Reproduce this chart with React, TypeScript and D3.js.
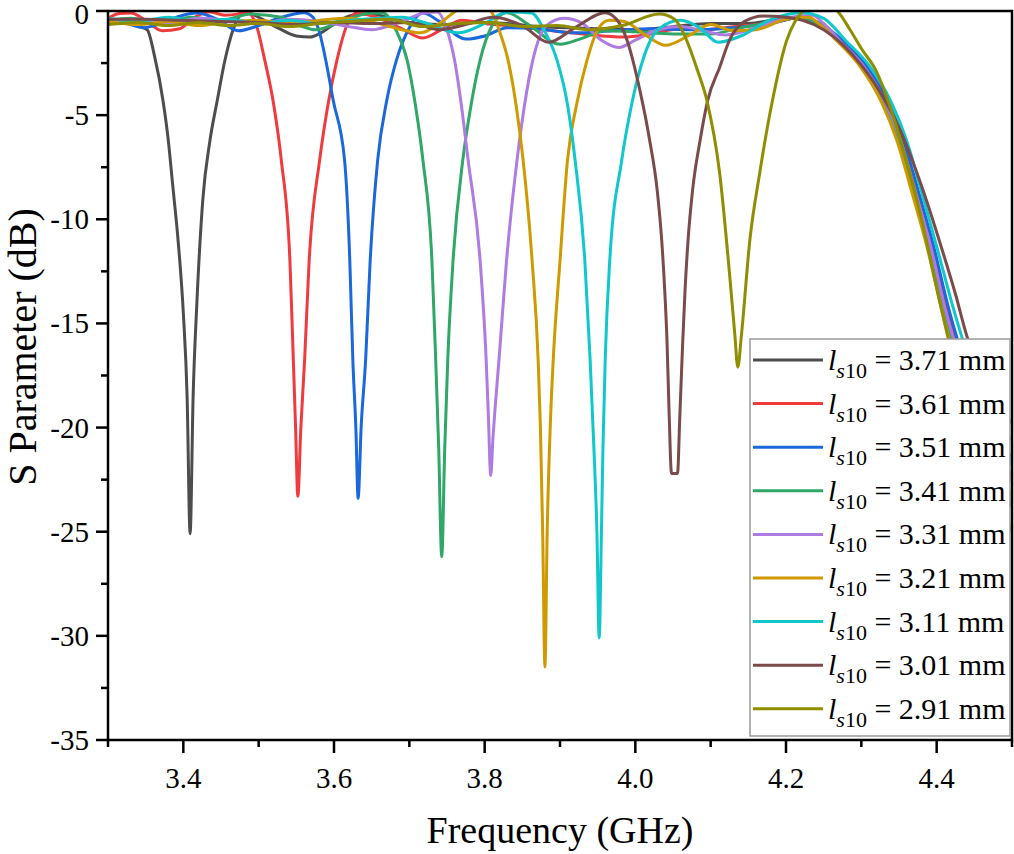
import React from "react";
import * as d3 from "d3";

// S11 curves for each ls10 value, [frequency GHz, dB]
const ls371 = [
  [3.300, -0.45], [3.315, -0.5], [3.330, -0.6], [3.342, -0.75], [3.352, -0.9], [3.362, -2.2], [3.373, -4.3],
  [3.380, -6.2], [3.386, -8.4], [3.393, -11.0], [3.400, -14.5], [3.405, -18.5], [3.409, -25.1], [3.413, -18.5],
  [3.418, -14.0], [3.426, -9.0], [3.435, -6.3], [3.445, -4.3], [3.455, -2.4], [3.466, -0.9], [3.482, -0.05],
  [3.500, -0.3], [3.525, -0.8], [3.550, -1.2], [3.568, -1.25], [3.585, -1.0], [3.605, -0.5], [3.625, -0.2],
  [3.650, -0.15], [3.680, -0.4], [3.710, -0.6], [3.750, -0.65], [3.790, -0.55], [3.830, -0.6], [3.870, -0.75],
  [3.910, -0.8], [3.950, -0.85], [4.000, -0.9], [4.050, -0.75], [4.100, -0.6], [4.150, -0.6], [4.200, -0.35],
  [4.225, -0.4], [4.250, -0.8], [4.275, -1.55], [4.305, -2.7], [4.335, -4.5], [4.355, -6.3], [4.375, -8.8],
  [4.395, -11.4], [4.415, -14.4], [4.435, -16.9], [4.465, -19.6], [4.500, -22.4],
];
const ls361 = [
  [3.300, -0.35], [3.315, -0.12], [3.330, -0.1], [3.350, -0.45], [3.372, -0.95], [3.395, -0.85], [3.415, -0.3],
  [3.435, -0.05], [3.455, -0.2], [3.472, -0.15], [3.484, -0.05], [3.497, -0.7], [3.508, -2.35], [3.520, -4.5],
  [3.530, -7.15], [3.5415, -12.0], [3.546, -16.75], [3.549, -20.0], [3.552, -23.3], [3.556, -20.0],
  [3.561, -16.75], [3.567, -12.0], [3.581, -7.15], [3.592, -4.5], [3.604, -2.35], [3.618, -0.6], [3.630, -0.1],
  [3.660, -0.35], [3.690, -0.85], [3.718, -1.3], [3.745, -0.85], [3.770, -0.45], [3.800, -0.6], [3.845, -0.75],
  [3.890, -0.95], [3.930, -1.1], [3.985, -1.25], [4.020, -1.1], [4.060, -0.85], [4.090, -0.9], [4.130, -0.75],
  [4.185, -0.55], [4.220, -0.3], [4.248, -0.75], [4.273, -1.5], [4.303, -2.65], [4.333, -4.45], [4.353, -6.25],
  [4.373, -8.75], [4.393, -11.35], [4.413, -14.4], [4.433, -16.9], [4.463, -19.5], [4.500, -22.6],
];
const ls351 = [
  [3.300, -0.45], [3.325, -0.6], [3.347, -0.8], [3.370, -0.6], [3.395, -0.25], [3.418, -0.1], [3.445, -0.4],
  [3.473, -0.95], [3.500, -0.7], [3.530, -0.3], [3.560, -0.08], [3.572, -0.3], [3.581, -1.06], [3.589, -2.35],
  [3.599, -4.3], [3.614, -7.15], [3.621, -12.0], [3.625, -16.75], [3.629, -20.0], [3.632, -23.4], [3.636, -20.0],
  [3.642, -16.75], [3.648, -12.0], [3.658, -7.15], [3.670, -4.3], [3.683, -2.35], [3.700, -0.8], [3.718, -0.1],
  [3.740, -0.5], [3.775, -1.35], [3.800, -1.2], [3.830, -0.8], [3.870, -0.85], [3.920, -1.05], [3.970, -0.95],
  [4.020, -0.85], [4.080, -0.9], [4.130, -0.8], [4.180, -0.6], [4.220, -0.3], [4.250, -0.7], [4.276, -1.45],
  [4.306, -2.6], [4.336, -4.4], [4.356, -6.2], [4.376, -8.7], [4.396, -11.3], [4.416, -14.3], [4.436, -16.7],
  [4.466, -19.2], [4.500, -21.5],
];
const ls341 = [
  [3.300, -0.45], [3.330, -0.35], [3.370, -0.55], [3.410, -0.3], [3.450, -0.45], [3.490, -0.15], [3.530, -0.3],
  [3.555, -0.7], [3.575, -0.9], [3.600, -0.65], [3.630, -0.25], [3.650, -0.1], [3.665, -0.1], [3.682, -0.9],
  [3.697, -2.35], [3.708, -4.5], [3.718, -7.15], [3.730, -12.0], [3.735, -16.75], [3.739, -21.0], [3.743, -26.2],
  [3.747, -21.0], [3.751, -16.75], [3.758, -12.0], [3.771, -7.15], [3.782, -4.5], [3.794, -2.35], [3.810, -0.7],
  [3.829, -0.08], [3.860, -0.7], [3.900, -1.6], [3.930, -1.3], [3.960, -0.95], [4.000, -1.0], [4.050, -1.1],
  [4.100, -1.1], [4.140, -0.8], [4.180, -0.55], [4.220, -0.3], [4.245, -0.7], [4.270, -1.45], [4.300, -2.6],
  [4.330, -4.4], [4.350, -6.2], [4.370, -8.7], [4.390, -11.3], [4.410, -14.4], [4.430, -17.0], [4.460, -20.0],
  [4.500, -23.8],
];
const ls331 = [
  [3.300, -0.6], [3.340, -0.45], [3.380, -0.6], [3.420, -0.35], [3.460, -0.45], [3.500, -0.6], [3.540, -0.4],
  [3.580, -0.5], [3.620, -0.75], [3.650, -0.9], [3.690, -0.5], [3.720, -0.1], [3.737, -0.05], [3.749, -0.8],
  [3.760, -2.35], [3.769, -4.5], [3.778, -7.15], [3.794, -12.0], [3.802, -16.75], [3.805, -19.5], [3.808, -22.3],
  [3.811, -20.5], [3.814, -19.0], [3.819, -16.75], [3.829, -12.0], [3.843, -7.15], [3.853, -4.5], [3.864, -2.35],
  [3.882, -0.7], [3.905, -0.35], [3.930, -0.6], [3.955, -1.4], [3.978, -1.75], [4.000, -1.4], [4.030, -0.9],
  [4.060, -0.75], [4.090, -0.95], [4.120, -1.15], [4.160, -0.8], [4.200, -0.35], [4.235, -0.2], [4.250, -0.6],
  [4.272, -1.45], [4.302, -2.6], [4.332, -4.4], [4.352, -6.2], [4.372, -8.7], [4.392, -11.3], [4.412, -14.4],
  [4.432, -16.8], [4.462, -19.0], [4.500, -20.6],
];
const ls321 = [
  [3.300, -0.5], [3.340, -0.65], [3.380, -0.5], [3.420, -0.7], [3.460, -0.5], [3.500, -0.45], [3.540, -0.6],
  [3.580, -0.45], [3.620, -0.35], [3.660, -0.6], [3.690, -0.9], [3.715, -1.05], [3.740, -0.6], [3.762, 0.0],
  [3.785, 0.3], [3.808, 0.0], [3.820, -1.0], [3.831, -2.35], [3.842, -4.6], [3.851, -7.15], [3.863, -12.0],
  [3.871, -16.75], [3.874, -20.0], [3.877, -25.0], [3.880, -31.5], [3.883, -25.0], [3.887, -20.0], [3.891, -16.75],
  [3.900, -12.0], [3.910, -7.15], [3.922, -4.5], [3.936, -2.35], [3.950, -0.9], [3.965, -0.45], [3.985, -0.5],
  [4.015, -1.2], [4.040, -1.65], [4.070, -1.2], [4.100, -0.65], [4.130, -0.95], [4.160, -0.9], [4.200, -0.4],
  [4.230, -0.3], [4.245, -0.65], [4.268, -1.45], [4.297, -2.6], [4.327, -4.4], [4.347, -6.2], [4.367, -8.7],
  [4.387, -11.3], [4.407, -14.4], [4.427, -17.1], [4.460, -20.4], [4.500, -23.3],
];
const ls311 = [
  [3.300, -0.35], [3.340, -0.5], [3.380, -0.3], [3.420, -0.5], [3.460, -0.4], [3.500, -0.6], [3.540, -0.45],
  [3.580, -0.6], [3.620, -0.45], [3.660, -0.35], [3.690, -0.3], [3.720, -0.55], [3.765, -1.05], [3.800, -0.6],
  [3.830, -0.05], [3.862, -0.1], [3.880, -1.0], [3.896, -2.35], [3.910, -4.5], [3.920, -7.15], [3.933, -12.0],
  [3.940, -16.75], [3.945, -21.0], [3.949, -25.0], [3.952, -30.1], [3.955, -25.0], [3.957, -21.0], [3.960, -16.75],
  [3.966, -12.0], [3.982, -7.15], [3.995, -4.5], [4.010, -2.35], [4.030, -0.9], [4.060, -0.45], [4.085, -0.8],
  [4.110, -1.5], [4.140, -1.2], [4.180, -0.4], [4.220, -0.08], [4.250, -0.35], [4.280, -1.45], [4.310, -2.6],
  [4.340, -4.4], [4.360, -6.2], [4.380, -8.7], [4.400, -11.3], [4.420, -14.0], [4.440, -16.4], [4.470, -19.2],
  [4.500, -21.8],
];
const ls301 = [
  [3.300, -0.4], [3.350, -0.4], [3.400, -0.45], [3.450, -0.5], [3.500, -0.55], [3.550, -0.65], [3.600, -0.55],
  [3.650, -0.6], [3.700, -0.55], [3.740, -0.9], [3.780, -0.6], [3.810, -0.3], [3.850, -0.7], [3.885, -1.5],
  [3.920, -0.8], [3.960, -0.08], [3.975, -0.4], [3.989, -1.4], [4.006, -3.8], [4.019, -6.2], [4.029, -8.6],
  [4.035, -11.0], [4.039, -13.4], [4.042, -15.8], [4.045, -19.5], [4.048, -22.2], [4.056, -22.2], [4.059, -19.5],
  [4.063, -15.8], [4.066, -13.4], [4.070, -11.0], [4.076, -8.6], [4.086, -6.2], [4.096, -4.3], [4.112, -2.7],
  [4.125, -1.4], [4.145, -0.5], [4.170, -0.24], [4.200, -0.3], [4.222, -0.45], [4.250, -0.9], [4.275, -1.6],
  [4.300, -2.6], [4.330, -4.2], [4.355, -6.0], [4.380, -8.4], [4.405, -11.2], [4.425, -13.6], [4.440, -15.6],
  [4.470, -18.2], [4.500, -19.8],
];
const ls291 = [
  [3.300, -0.65], [3.340, -0.55], [3.380, -0.7], [3.420, -0.55], [3.460, -0.7], [3.500, -0.6], [3.540, -0.75],
  [3.580, -0.6], [3.620, -0.5], [3.674, -0.4], [3.718, -0.75], [3.763, -0.6], [3.807, -0.55], [3.851, -0.75],
  [3.896, -0.7], [3.940, -0.9], [3.983, -0.7], [4.032, -0.15], [4.052, -0.4], [4.068, -1.4], [4.082, -2.8],
  [4.095, -4.3], [4.112, -7.8], [4.125, -12.6], [4.132, -15.5], [4.136, -17.1], [4.141, -15.5], [4.152, -11.0],
  [4.165, -7.8], [4.182, -4.3], [4.201, -1.4], [4.212, -0.5], [4.223, 0.0], [4.245, 0.4], [4.268, 0.0],
  [4.285, -0.9], [4.300, -1.8], [4.320, -2.9], [4.340, -4.8], [4.360, -7.2], [4.380, -10.0], [4.400, -13.3],
  [4.420, -16.4], [4.445, -19.5], [4.470, -22.0], [4.500, -25.0],
];

const lsValues = ["3.71", "3.61", "3.51", "3.41", "3.31", "3.21", "3.11", "3.01", "2.91"];
const curves = [ls371, ls361, ls351, ls341, ls331, ls321, ls311, ls301, ls291];
const colors = ["#4d4d4d", "#ef3a3e", "#1a68dc", "#2fa766", "#ae7be2", "#cf9a00", "#10c8cb", "#7a4b4a", "#8f8d00"];

const xTicks = [3.4, 3.6, 3.8, 4.0, 4.2, 4.4];
const xMinor = [3.3, 3.5, 3.7, 3.9, 4.1, 4.3, 4.5];
const yTicks = [0, -5, -10, -15, -20, -25, -30, -35];
const yMinor = [-2.5, -7.5, -12.5, -17.5, -22.5, -27.5, -32.5];

const serif = "Liberation Serif, Times New Roman, DejaVu Serif, serif";

export default function App() {
  const x = d3.scaleLinear().domain([3.3, 4.5]).range([108, 1012]);
  const y = d3.scaleLinear().domain([-35, 0]).range([740, 11]);
  const line = d3
    .line<number[]>()
    .x((d) => x(d[0]))
    .y((d) => y(d[1]))
    .curve(d3.curveMonotoneX);

  const legX = 750, legY = 339, legRow = 43.6;

  return (
    <svg width={1014} height={854} style={{ position: "absolute", left: 0, top: 0, fontFamily: serif }}>
      <rect width={1014} height={854} fill="#fff" />
      <defs>
        <clipPath id="plotArea">
          <rect x={108} y={11} width={904} height={729} />
        </clipPath>
      </defs>
      <g clipPath="url(#plotArea)">
        {curves.map((c, i) => (
          <path key={i} d={line(c) || ""} fill="none" stroke={colors[i]} strokeWidth={3} strokeLinejoin="round" />
        ))}
      </g>

      {/* frame */}
      <rect x={108} y={11} width={904} height={729} fill="none" stroke="#000" strokeWidth={2.5} />

      {/* x axis */}
      {xTicks.map((t) => (
        <g key={t}>
          <line x1={x(t)} x2={x(t)} y1={740} y2={753} stroke="#000" strokeWidth={2.5} />
          <text x={x(t)} y={788} textAnchor="middle" style={{ fontSize: 29 }}>
            {t.toFixed(1)}
          </text>
        </g>
      ))}
      {xMinor.map((t) => (
        <line key={t} x1={x(t)} x2={x(t)} y1={740} y2={747} stroke="#000" strokeWidth={2.5} />
      ))}

      {/* y axis */}
      {yTicks.map((t) => (
        <g key={t}>
          <line x1={96} x2={108} y1={y(t)} y2={y(t)} stroke="#000" strokeWidth={2.5} />
          <text x={89} y={Math.max(y(t) + 10, 24)} textAnchor="end" style={{ fontSize: 29 }}>
            {t}
          </text>
        </g>
      ))}
      {yMinor.map((t) => (
        <line key={t} x1={101} x2={108} y1={y(t)} y2={y(t)} stroke="#000" strokeWidth={2.5} />
      ))}

      <text x={560} y={843} textAnchor="middle" style={{ fontSize: 38 }}>
        Frequency (GHz)
      </text>
      <text transform="translate(36,347) rotate(-90)" textAnchor="middle" style={{ fontSize: 40 }}>
        S Parameter (dB)
      </text>

      {/* legend */}
      <rect x={legX} y={legY} width={260} height={397} fill="#fff" stroke="#999" strokeWidth={1.5} />
      {lsValues.map((v, i) => {
        const cy = legY + 21 + i * legRow;
        return (
          <g key={v}>
            <line x1={753} x2={823} y1={cy} y2={cy} stroke={colors[i]} strokeWidth={3} />
            <text x={828} y={cy + 10} style={{ fontSize: 30 }}>
              <tspan fontStyle="italic">l</tspan>
              <tspan fontStyle="italic" style={{ fontSize: 22 }} dy={8}>s</tspan>
              <tspan style={{ fontSize: 22 }}>10</tspan>
              <tspan dy={-8}>{` = ${v} mm`}</tspan>
            </text>
          </g>
        );
      })}
    </svg>
  );
}
